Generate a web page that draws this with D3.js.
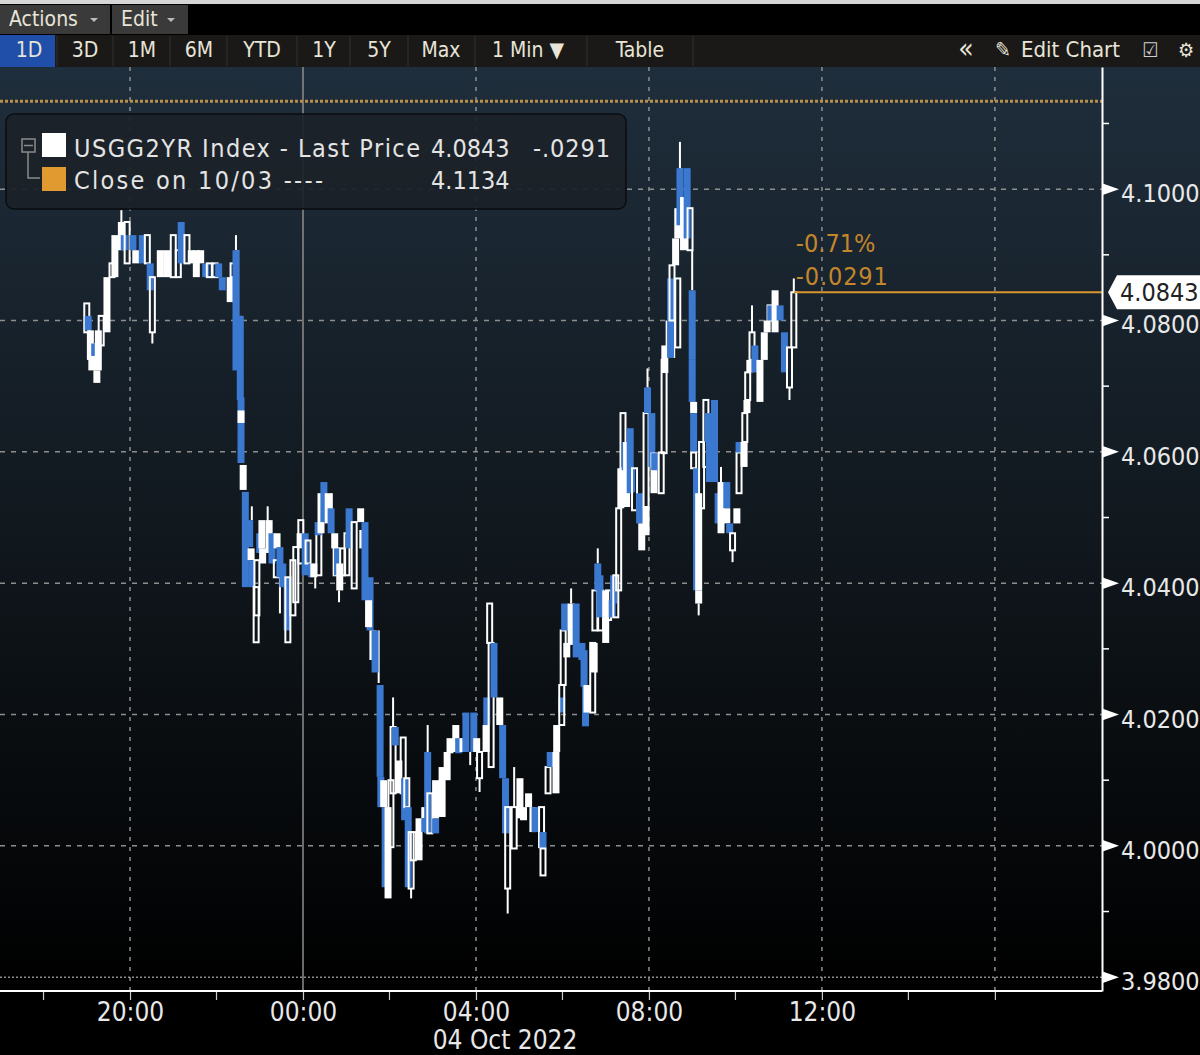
<!DOCTYPE html>
<html>
<head>
<meta charset="utf-8">
<script src="https://cdn.jsdelivr.net/npm/d3@7"></script>
<style>
  html, body { margin: 0; padding: 0; background: #000; overflow: hidden; }
  svg { display: block; }
  text { font-family: "DejaVu Sans Condensed", "DejaVu Sans", sans-serif; }
</style>
</head>
<body>
<div id="chart"></div>
<script>
// Dữ liệu: phút tính từ 20:00 ngày 03/10, loại nến, đỉnh và đáy thân nến
// h = nến rỗng, w = trắng đặc, b = xanh
const barMinutes = [
  -60,-58,-55,-53,-49,-44,-46,-40,-32,-25,
  -21,-12,-8,-4,4,8,17,24,28,31,
  42,51,60,67,71,79,85,92,98,105,
  110,118,123,128,139,143,147,153,154,154,
  157,160,166,168,169,175,176,180,183,184,
  193,197,204,203,208,212,218,219,226,230,
  236,237,243,247,252,255,262,261,265,269,
  275,279,284,286,288,291,295,301,304,311,
  320,323,326,333,331,337,340,347,348,352,
  354,358,362,365,368,373,379,381,384,386,
  390,393,401,409,409,413,416,424,424,433,
  440,444,452,456,462,466,477,481,485,494,
  495,499,501,505,513,517,521,524,533,541,
  546,553,559,562,571,573,573,580,583,591,
  592,599,599,601,603,606,612,619,627,630,
  632,634,642,644,645,649,653,652,660,664,
  669,671,674,678,681,684,687,689,694,696,
  700,707,710,716,716,718,724,727,728,737,
  741,742,748,750,752,757,760,760,763,768,
  773,777,780,780,782,782,782,786,789,789,
  793,799,802,804,811,816,820,828,828,832,
  836,842,845,845,852,853,856,857,860,863,
  867,874,880,884,888,889,895,902,908,915,
  921
];
const barKinds = [
  "h","b","w","w","b","w","w","h","w","h",
  "w","w","b","h","b","w","b","h","b","h",
  "w","w","h","h","b","h","w","w","w","b",
  "h","h","b","b","w","h","b","b","b","w",
  "w","b","b","w","b","h","h","b","w","w",
  "w","b","w","h","b","b","b","h","h","h",
  "w","h","b","h","b","w","h","b","w","b",
  "w","b","w","h","b","w","h","h","b","h",
  "w","w","b","b","w","w","b","b","b","w",
  "b","w","h","h","b","w","h","b","h","b",
  "h","h","w","w","b","b","h","b","w","w",
  "w","w","w","b","w","b","b","w","h","w",
  "b","h","h","b","w","b","b","h","h","w",
  "w","w","w","b","h","b","h","h","b","w",
  "w","b","h","h","b","w","w","b","b","b",
  "b","w","h","w","h","b","h","b","w","h",
  "b","b","h","h","w","h","b","w","b","b",
  "h","b","w","w","h","b","b","w","b","h",
  "h","w","w","b","h","w","h","w","b","w",
  "b","h","b","b","w","b","h","b","w","w",
  "h","h","b","b","b","b","w","b","w","b",
  "h","w","h","b","w","h","w","h","w","h",
  "b","w","w","w","h","b","w","b","b","h",
  "h"
];
const barTops = [
  4.0826,4.0807,4.0785,4.0765,4.0765,4.0785,4.0724,4.0807,4.0866,4.0887,
  4.0930,4.0950,4.0930,4.0950,4.0930,4.0907,4.0930,4.0930,4.0887,4.0866,
  4.0907,4.0907,4.0930,4.0907,4.0950,4.0930,4.0907,4.0907,4.0907,4.0887,
  4.0887,4.0887,4.0887,4.0866,4.0866,4.0887,4.0907,4.0807,4.0683,4.0663,
  4.0580,4.0539,4.0496,4.0453,4.0435,4.0394,4.0435,4.0476,4.0496,4.0453,
  4.0496,4.0476,4.0476,4.0435,4.0455,4.0430,4.0409,4.0409,4.0435,4.0455,
  4.0476,4.0496,4.0476,4.0465,4.0430,4.0430,4.0476,4.0493,4.0537,4.0554,
  4.0537,4.0514,4.0476,4.0453,4.0453,4.0430,4.0453,4.0476,4.0514,4.0493,
  4.0514,4.0481,4.0493,4.0409,4.0374,4.0328,4.0328,4.0245,4.0105,4.0100,
  4.0059,4.0059,4.0100,4.0181,4.0181,4.0130,4.0165,4.0103,4.0103,4.0059,
  4.0021,4.0021,4.0042,4.0059,4.0042,4.0143,4.0080,4.0042,4.0100,4.0120,
  4.0143,4.0164,4.0184,4.0164,4.0164,4.0203,4.0203,4.0164,4.0143,4.0184,
  4.0226,4.0369,4.0309,4.0309,4.0226,4.0184,4.0103,4.0059,4.0059,4.0103,
  4.0059,4.0080,4.0059,4.0059,4.0059,4.0021,3.9996,4.0120,4.0143,4.0143,
  4.0184,4.0226,4.0245,4.0328,4.0369,4.0309,4.0369,4.0369,4.0309,4.0298,
  4.0245,4.0245,4.0309,4.0309,4.0389,4.0430,4.0389,4.0412,4.0389,4.0389,
  4.0374,4.0412,4.0412,4.0514,4.0575,4.0659,4.0615,4.0615,4.0636,4.0575,
  4.0575,4.0537,4.0491,4.0516,4.0659,4.0698,4.0659,4.0599,4.0598,4.0599,
  4.0740,4.0762,4.0800,4.0864,4.0884,4.0925,4.0864,4.0971,4.1032,4.0988,
  4.1032,4.0971,4.0846,4.0740,4.0676,4.0659,4.0599,4.0575,4.0537,4.0389,
  4.0615,4.0679,4.0659,4.0615,4.0679,4.0537,4.0554,4.0554,4.0514,4.0491,
  4.0476,4.0514,4.0599,4.0615,4.0615,4.0659,4.0679,4.0721,4.0740,4.0782,
  4.0762,4.0740,4.0782,4.0800,4.0823,4.0823,4.0846,4.0823,4.0782,4.0759,
  4.0843
];
const barBottoms = [
  4.0782,4.0785,4.0740,4.0724,4.0746,4.0724,4.0705,4.0762,4.0782,4.0866,
  4.0866,4.0907,4.0907,4.0887,4.0907,4.0887,4.0887,4.0887,4.0846,4.0782,
  4.0866,4.0866,4.0866,4.0866,4.0887,4.0887,4.0887,4.0866,4.0887,4.0866,
  4.0866,4.0866,4.0866,4.0846,4.0828,4.0866,4.0724,4.0679,4.0583,4.0644,
  4.0542,4.0394,4.0455,4.0435,4.0394,4.0310,4.0351,4.0446,4.0453,4.0430,
  4.0446,4.0430,4.0453,4.0409,4.0409,4.0394,4.0328,4.0310,4.0351,4.0371,
  4.0453,4.0430,4.0412,4.0430,4.0409,4.0409,4.0412,4.0473,4.0476,4.0493,
  4.0491,4.0476,4.0453,4.0412,4.0412,4.0389,4.0412,4.0412,4.0453,4.0392,
  4.0493,4.0453,4.0374,4.0328,4.0333,4.0283,4.0264,4.0105,4.0059,4.0059,
  3.9937,3.9920,3.9998,4.0080,4.0153,4.0080,4.0080,4.0039,4.0059,3.9937,
  3.9935,3.9978,3.9978,4.0042,4.0021,4.0019,4.0019,4.0019,4.0042,4.0044,
  4.0100,4.0141,4.0143,4.0141,4.0143,4.0143,4.0143,4.0143,4.0103,4.0143,
  4.0184,4.0309,4.0120,4.0226,4.0184,4.0103,4.0019,3.9935,3.9996,4.0042,
  4.0039,4.0059,4.0021,4.0021,3.9998,3.9996,3.9955,4.0080,4.0120,4.0080,
  4.0143,4.0203,4.0184,4.0245,4.0328,4.0287,4.0306,4.0287,4.0283,4.0242,
  4.0182,4.0203,4.0203,4.0264,4.0328,4.0389,4.0328,4.0348,4.0309,4.0344,
  4.0348,4.0369,4.0348,4.0389,4.0514,4.0575,4.0572,4.0516,4.0537,4.0539,
  4.0511,4.0491,4.0450,4.0473,4.0516,4.0659,4.0577,4.0537,4.0572,4.0537,
  4.0598,4.0720,4.0759,4.0743,4.0800,4.0884,4.0759,4.0925,4.0945,4.0907,
  4.0925,4.0907,4.0740,4.0676,4.0659,4.0599,4.0575,4.0389,4.0389,4.0369,
  4.0514,4.0577,4.0615,4.0554,4.0554,4.0491,4.0476,4.0514,4.0491,4.0476,
  4.0450,4.0491,4.0537,4.0599,4.0577,4.0615,4.0659,4.0679,4.0721,4.0740,
  4.0721,4.0676,4.0740,4.0782,4.0800,4.0800,4.0782,4.0800,4.0721,4.0698,
  4.0759
];
// Các râu nến nhô ra khỏi thân
const wickMinutes = [-12,31,147,150,154,169,191,208,257,280,290,345,365,390,413,472,485,524,533,612,649,718,755,763,764,780,782,789,814,820,836,863,915,921];
const wickHighs = [4.0968,4.0782,4.0930,4.0907,4.0807,4.0517,4.0517,4.0409,4.0420,4.0537,4.0389,4.0328,4.0226,3.9935,4.0184,4.0143,4.0103,3.9935,4.0120,4.0392,4.0453,4.0727,4.0800,4.1072,4.1032,4.0907,4.0721,4.0369,4.0638,4.0577,4.0450,4.0823,4.0698,4.0864];
const wickLows = [4.0950,4.0765,4.0907,4.0807,4.0683,4.0496,4.0458,4.0354,4.0392,4.0511,4.0371,4.0248,4.0181,3.9920,4.0143,4.0123,4.0082,3.9897,4.0059,4.0369,4.0430,4.0698,4.0743,4.1032,4.0971,4.0846,4.0676,4.0351,4.0615,4.0554,4.0432,4.0782,4.0679,4.0843];

const lastPrice = 4.0843;
const prevClose = 4.1134;
const lastMinute = 921;

const yMajorTicks = [4.10, 4.08, 4.06, 4.04, 4.02, 4.00, 3.98];
const yMinorTicks = [4.11, 4.09, 4.07, 4.05, 4.03, 4.01, 3.99];
const xMajorTicks = [0, 240, 480, 720, 960, 1200];
const xMinorTicks = [-120, 120, 360, 600, 840, 1080];
const xTickLabels = ["20:00", "00:00", "04:00", "08:00", "12:00", ""];
const rangeButtons = ["1D", "3D", "1M", "6M", "YTD", "1Y", "5Y", "Max", "1 Min ▼", "Table"];
const rangeCenters = [29, 85, 142, 199, 262, 324, 379, 441, 528, 640];
const rangeDividers = [57, 113, 170, 227, 297, 350, 408, 475, 587, 693];

const W = 1200, H = 1055;
const plot = { left: 0, right: 1102, top: 67, bottom: 991 };

const svg = d3.select("#chart").append("svg").attr("width", W).attr("height", H);

const x = d3.scaleLinear().domain([-180.4, 1348.6]).range([plot.left, plot.right]);
const y = d3.scaleLinear().domain([3.9779, 4.1186]).range([plot.bottom, plot.top]);

// Nền gradient
const defs = svg.append("defs");
const grad = defs.append("linearGradient").attr("id", "bg").attr("x1", 0).attr("x2", 0).attr("y1", 0).attr("y2", 1);
grad.append("stop").attr("offset", "0%").attr("stop-color", "#1f2e3c");
grad.append("stop").attr("offset", "50%").attr("stop-color", "#11181e");
grad.append("stop").attr("offset", "100%").attr("stop-color", "#000");

svg.append("rect").attr("width", W).attr("height", H).attr("fill", "#000");
svg.append("rect").attr("width", W).attr("height", 4).attr("fill", "#d6d6d6");
svg.append("rect").attr("y", plot.top).attr("width", W).attr("height", plot.bottom - plot.top).attr("fill", "url(#bg)");
defs.append("clipPath").attr("id", "plot-clip").append("rect")
  .attr("x", plot.left).attr("y", plot.top).attr("width", plot.right - plot.left).attr("height", plot.bottom - plot.top);

// Lưới
const grid = svg.append("g");
grid.selectAll(".hgrid").data(yMajorTicks).enter().append("line")
  .attr("x1", plot.left).attr("x2", plot.right)
  .attr("y1", d => y(d)).attr("y2", d => y(d))
  .attr("stroke", "#8e8e8e").attr("stroke-width", 1.5)
  .attr("stroke-dasharray", d => d === 3.98 ? "2 2" : "5 6");
grid.selectAll(".vgrid").data(xMajorTicks).enter().append("line")
  .attr("x1", d => x(d)).attr("x2", d => x(d))
  .attr("y1", plot.top).attr("y2", plot.bottom)
  .attr("stroke", "#8e8e8e")
  .attr("stroke-width", 1.5)
  .attr("stroke-dasharray", d => d === 240 ? null : "4 6");

// Đường giá đóng cửa hôm trước
svg.append("line")
  .attr("x1", plot.left).attr("x2", plot.right)
  .attr("y1", y(prevClose)).attr("y2", y(prevClose))
  .attr("stroke", "#b8904c").attr("stroke-width", 3).attr("stroke-dasharray", "3 2");

// Nến
const marks = svg.append("g").attr("clip-path", "url(#plot-clip)");
const bars = barMinutes.map((m, i) => ({ m, kind: barKinds[i], top: barTops[i], bottom: barBottoms[i] }));
const wicks = wickMinutes.map((m, i) => ({ m, high: wickHighs[i], low: wickLows[i] }));

marks.selectAll(".wick").data(wicks).enter().append("line")
  .attr("class", "wick")
  .attr("x1", d => x(d.m)).attr("x2", d => x(d.m))
  .attr("y1", d => y(d.high)).attr("y2", d => y(d.low))
  .attr("stroke", "#fff").attr("stroke-width", 2);

marks.selectAll(".bar").data(bars).enter().append("rect")
  .attr("class", "bar")
  .attr("x", d => x(d.m) - (d.kind === "h" ? 2.5 : 3.5))
  .attr("width", d => d.kind === "h" ? 5 : 7)
  .attr("y", d => y(d.top))
  .attr("height", d => y(d.bottom) - y(d.top))
  .attr("fill", d => d.kind === "b" ? "#3b78cf" : d.kind === "w" ? "#fff" : "none")
  .attr("stroke", d => d.kind === "h" ? "#fff" : "none")
  .attr("stroke-width", 2);

// Đường giá cuối
svg.append("line")
  .attr("x1", x(lastMinute)).attr("x2", plot.right)
  .attr("y1", y(lastPrice)).attr("y2", y(lastPrice))
  .attr("stroke", "#d9962f").attr("stroke-width", 2);
svg.append("text").attr("x", x(lastMinute) + 2).attr("y", 252)
  .attr("fill", "#c4862c").attr("font-size", 25).text("-0.71%");
svg.append("text").attr("x", x(lastMinute) + 2).attr("y", 285)
  .attr("fill", "#c4862c").attr("font-size", 25)
  .attr("textLength", 92).attr("lengthAdjust", "spacing").text("-0.0291");

// Trục Y
const yAxisG = svg.append("g").attr("transform", `translate(${plot.right},0)`);
yAxisG.call(d3.axisRight(y).tickValues(yMajorTicks).tickFormat(d3.format(".4f")).tickSize(0).tickPadding(19));
yAxisG.select(".domain").attr("stroke", "#fff").attr("stroke-width", 2);
yAxisG.selectAll("text").attr("fill", "#e8e8e8").attr("font-size", 25).attr("dy", "0.5em").attr("font-family", "DejaVu Sans Condensed");
yAxisG.selectAll(".tri").data(yMajorTicks).enter().append("path")
  .attr("class", "tri")
  .attr("d", d => `M0,${y(d) - 6}L17,${y(d)}L0,${y(d) + 6}Z`)
  .attr("fill", "#fff");
yAxisG.selectAll(".minor").data(yMinorTicks).enter().append("line")
  .attr("class", "minor")
  .attr("x1", 0).attr("x2", 7)
  .attr("y1", d => y(d)).attr("y2", d => y(d))
  .attr("stroke", "#fff").attr("stroke-width", 1.5);

// Nhãn giá cuối
const py = y(lastPrice);
svg.append("path")
  .attr("d", `M1200,${py - 17}L1117,${py - 17}L1108,${py}L1117,${py + 17}L1200,${py + 17}Z`)
  .attr("fill", "#fff");
svg.append("text").attr("x", 1120).attr("y", py + 9)
  .attr("fill", "#222").attr("font-size", 25).text(d3.format(".4f")(lastPrice));

// Trục X
const xAxisG = svg.append("g").attr("transform", `translate(0,${plot.bottom})`);
xAxisG.call(d3.axisBottom(x).tickValues(xMajorTicks)
  .tickFormat((d, i) => xTickLabels[i]).tickSize(9).tickPadding(3));
xAxisG.select(".domain").remove();
xAxisG.selectAll("line").attr("stroke", "#ccc").attr("stroke-width", 1.2);
xAxisG.selectAll("text").attr("fill", "#e8e8e8").attr("font-size", 26).attr("font-family", "DejaVu Sans Condensed");
xAxisG.selectAll(".minor").data(xMinorTicks).enter().append("line")
  .attr("class", "minor")
  .attr("x1", d => x(d)).attr("x2", d => x(d))
  .attr("y1", 0).attr("y2", 9)
  .attr("stroke", "#ccc").attr("stroke-width", 1.2);
svg.append("line").attr("x1", 0).attr("x2", plot.right).attr("y1", plot.bottom).attr("y2", plot.bottom)
  .attr("stroke", "#fff").attr("stroke-width", 2);
svg.append("text").attr("x", 505).attr("y", 1049).attr("text-anchor", "middle")
  .attr("fill", "#e8e8e8").attr("font-size", 26).text("04 Oct 2022");

// Chú giải
const legend = svg.append("g");
legend.append("rect").attr("x", 6).attr("y", 114).attr("width", 620).attr("height", 95).attr("rx", 8)
  .attr("fill", "#1b2128").attr("fill-opacity", 0.93).attr("stroke", "#0a0d10").attr("stroke-width", 1.5);
legend.append("rect").attr("x", 22).attr("y", 139).attr("width", 13).attr("height", 13)
  .attr("fill", "none").attr("stroke", "#8a8a8a").attr("stroke-width", 1.5);
legend.append("line").attr("x1", 24).attr("x2", 33).attr("y1", 145.5).attr("y2", 145.5).attr("stroke", "#8a8a8a").attr("stroke-width", 1.5);
legend.append("path").attr("d", "M28,152V178H40").attr("fill", "none").attr("stroke", "#8a8a8a").attr("stroke-width", 1.5);
legend.append("rect").attr("x", 42).attr("y", 133).attr("width", 24).attr("height", 24).attr("fill", "#fff");
legend.append("rect").attr("x", 42).attr("y", 167).attr("width", 24).attr("height", 24).attr("fill", "#e09a30");
legend.append("text").attr("x", 74).attr("y", 157).attr("fill", "#e4e4e4").attr("font-size", 25)
  .attr("textLength", 346).attr("lengthAdjust", "spacing").text("USGG2YR Index - Last Price");
legend.append("text").attr("x", 431).attr("y", 157).attr("fill", "#e4e4e4").attr("font-size", 25).text(d3.format(".4f")(lastPrice));
legend.append("text").attr("x", 533).attr("y", 157).attr("fill", "#e4e4e4").attr("font-size", 25)
  .attr("textLength", 77).attr("lengthAdjust", "spacing").text("-.0291");
legend.append("text").attr("x", 74).attr("y", 189).attr("fill", "#e4e4e4").attr("font-size", 25)
  .attr("textLength", 249).attr("lengthAdjust", "spacing").text("Close on 10/03 ----");
legend.append("text").attr("x", 431).attr("y", 189).attr("fill", "#e4e4e4").attr("font-size", 25).text(d3.format(".4f")(prevClose));

// Thanh công cụ
const bar = svg.append("g");
bar.append("rect").attr("y", 35).attr("width", W).attr("height", 32).attr("fill", "#1a1917");
bar.append("rect").attr("y", 35).attr("width", 55).attr("height", 32).attr("fill", "#1f4fa8");
bar.append("rect").attr("x", 0).attr("y", 5).attr("width", 110).attr("height", 29).attr("fill", "#3a3a3a");
bar.append("rect").attr("x", 112).attr("y", 5).attr("width", 76).attr("height", 29).attr("fill", "#3a3a3a");
bar.append("text").attr("x", 9).attr("y", 26).attr("fill", "#e8e4d8").attr("font-size", 21).text("Actions");
bar.append("text").attr("x", 121).attr("y", 26).attr("fill", "#e8e4d8").attr("font-size", 21).text("Edit");
bar.append("path").attr("d", "M90,18h8l-4,4Z M167,18h8l-4,4Z").attr("fill", "#bbb");
bar.selectAll(".div").data(rangeDividers).enter().append("line")
  .attr("x1", d => d).attr("x2", d => d).attr("y1", 36).attr("y2", 66)
  .attr("stroke", "#2b2a27").attr("stroke-width", 1.5);
bar.selectAll(".range").data(rangeButtons).enter().append("text")
  .attr("x", (d, i) => rangeCenters[i]).attr("y", 57)
  .attr("text-anchor", "middle").attr("font-size", 21)
  .attr("fill", "#e8e4d8").text(d => d);
bar.append("text").attr("x", 966).attr("y", 58).attr("text-anchor", "middle").attr("fill", "#e8e4d8").attr("font-size", 28).text("«");
bar.append("text").attr("x", 1003).attr("y", 57).attr("text-anchor", "middle").attr("fill", "#e8e4d8").attr("font-size", 21).text("✎");
bar.append("text").attr("x", 1021).attr("y", 57).attr("fill", "#e8e4d8").attr("font-size", 22).text("Edit Chart");
bar.append("text").attr("x", 1150).attr("y", 57).attr("text-anchor", "middle").attr("fill", "#cfcfcf").attr("font-size", 20).text("☑");
bar.append("text").attr("x", 1186).attr("y", 57).attr("text-anchor", "middle").attr("fill", "#e8e4d8").attr("font-size", 20).text("⚙");
</script>
</body>
</html>
